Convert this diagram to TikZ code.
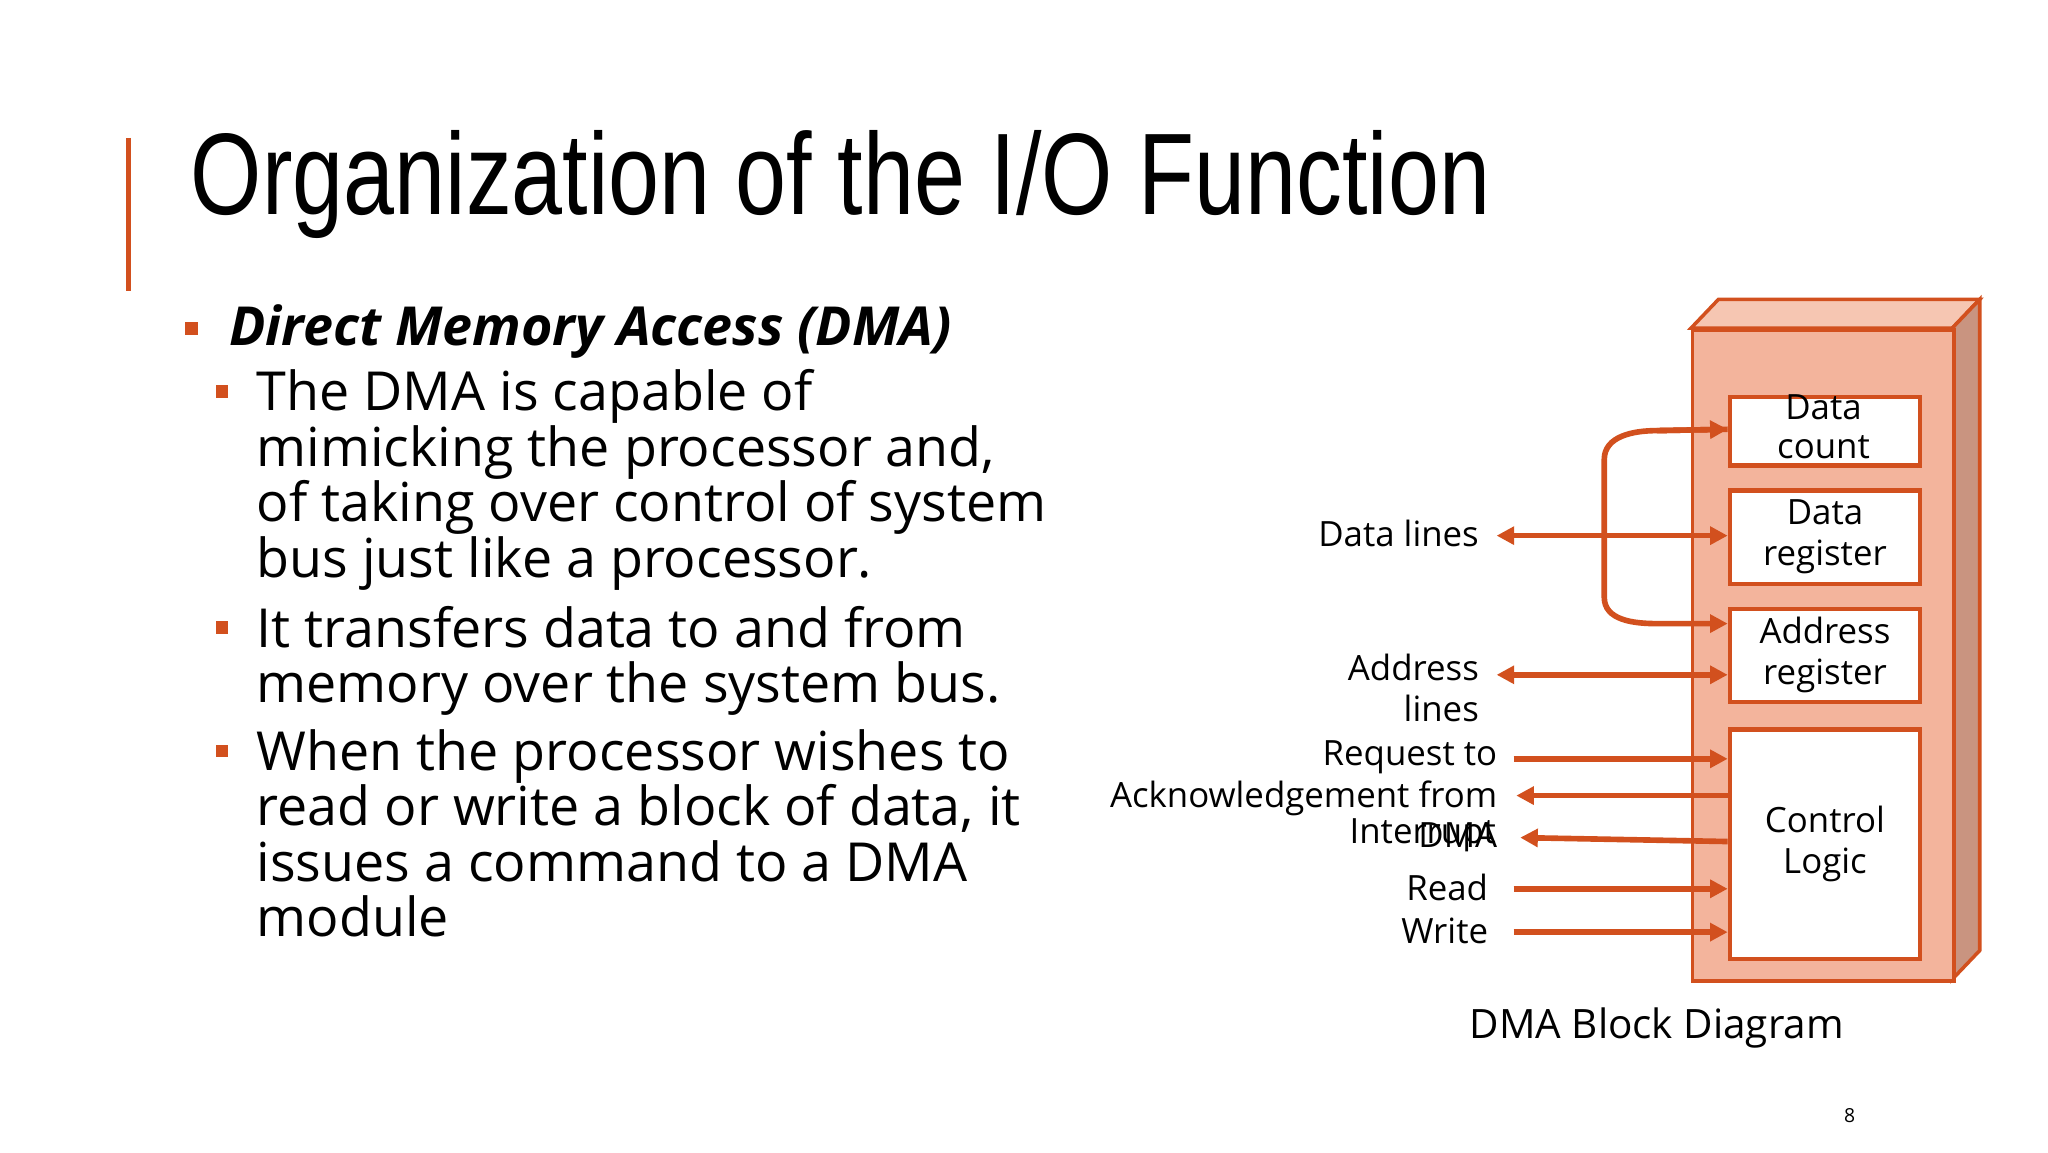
\documentclass[tikz,border=0pt]{standalone}
\usepackage{fontspec}
\setmainfont{Open Sans}
\newfontfamily\titlefont{Liberation Sans}
\usetikzlibrary{arrows.meta}
\definecolor{org}{HTML}{D2501E}
\definecolor{boxfill}{HTML}{F3B49C}
\definecolor{topfill}{HTML}{F6C6B2}
\definecolor{sidefill}{HTML}{C99480}
\tikzset{
  reg/.style={draw=org,line width=1.2pt,fill=white},
  conn/.style={draw=org,line width=1.6pt,-{Triangle[length=5pt,width=5pt]}},
  conn2/.style={draw=org,line width=1.6pt,{Triangle[length=5pt,width=5pt]}-{Triangle[length=5pt,width=5pt]}},
  lbl/.style={font=\fontsize{9.9}{11.6}\selectfont,align=right,inner sep=0pt},
  rlbl/.style={font=\fontsize{9.9}{11.6}\selectfont,align=center,inner sep=0pt},
  body/.style={font=\fontsize{15.3}{15.8}\selectfont,align=left,inner sep=0pt,anchor=north west},
  bul/.style={fill=org,inner sep=0pt,minimum size=3.6pt}
}
\begin{document}
\begin{tikzpicture}[x=0.01313cm,y=-0.01313cm]
\useasboundingbox[fill=white] (0,0) rectangle (1560,877.5);
% left accent line
\draw[org,line width=1.3pt] (98,105) -- (98,222);
% title
\node[anchor=base west,inner sep=0pt,font=\titlefont\fontsize{33}{36}\selectfont,xscale=0.79,transform shape] (title) at (145,163) {Organization of the I/O Function};
% bullets
\node[bul] (b0) at (146,250) {};
\node[anchor=base west,inner sep=0pt,font=\fontsize{15.3}{16}\selectfont\bfseries\itshape] (h) at (174,263) {Direct Memory Access (DMA)};
\node[bul] (b1) at (169,298) {};
\node[body] (t1) at (195,281) {The DMA is capable of\\mimicking the processor and,\\of taking over control of system\\bus just like a processor.};
\node[bul] (b2) at (169,478) {};
\node[body] (t2) at (195,461) {It transfers data to and from\\memory over the system bus.};
\node[bul] (b3) at (169,572) {};
\node[body] (t3) at (195,555) {When the processor wishes to\\read or write a block of data, it\\issues a command to a DMA\\module};
% DMA block
\fill[topfill,draw=org,line width=1pt] (1288,250) -- (1309,228) -- (1508,228) -- (1487,250) -- cycle;
\fill[sidefill,draw=org,line width=1pt] (1487,250) -- (1508,228) -- (1508,724) -- (1487,746) -- cycle;
\node[draw=org,line width=1pt,fill=boxfill,anchor=north west,minimum width=199*0.01313cm,minimum height=496*0.01313cm,inner sep=0pt] (dma) at (1288,250) {};
\node[reg,anchor=north west,minimum width=145*0.01313cm,minimum height=52*0.01313cm,inner sep=0pt] (dc) at (1316,301) {};
\node[rlbl] at (1389,310) {Data};
\node[rlbl] at (1389,341) {count};
\node[reg,anchor=north west,minimum width=145*0.01313cm,minimum height=71*0.01313cm,inner sep=0pt,rlbl] (dr) at (1316,372) {Data\\register};
\node[reg,anchor=north west,minimum width=145*0.01313cm,minimum height=71*0.01313cm,inner sep=0pt,rlbl] (ar) at (1316,462) {Address\\register};
\node[reg,anchor=north west,minimum width=145*0.01313cm,minimum height=175*0.01313cm,inner sep=0pt,rlbl] (cl) at (1316,554) {Control\\Logic};
% labels
\node[lbl,anchor=east] (ldata) at (1127,406) {Data lines};
\node[lbl,anchor=north east] (laddr) at (1127,498) {Address\\lines};
\node[lbl,anchor=east] (lreq) at (1141,577) {Request to};
\node[lbl,anchor=north east] (lack) at (1141,594) {Acknowledgement from\\DMA};
\node[lbl,anchor=east] (lint) at (1140,636) {Interrupt};
\node[lbl,anchor=east] (lread) at (1134,676) {Read};
\node[lbl,anchor=east] (lwrite) at (1134,709) {Write};
\node[inner sep=0pt,font=\fontsize{11.5}{13}\selectfont] (cap) at (1262,783) {DMA Block Diagram};
\node[inner sep=0pt,font=\fontsize{5.5}{6}\selectfont] (pg) at (1409,850) {8};
% connectors
\coordinate (dl) at (1140,408);
\coordinate (al) at (1140,514);
\coordinate (rq) at (1153,578);
\coordinate (ak) at (1155,606);
\coordinate (it) at (1158,638);
\coordinate (rd) at (1153,677);
\coordinate (wr) at (1153,710);
\draw[conn2] (dl) -- (dl -| dr.west);
\draw[conn2] (al) -- (al -| ar.west);
\draw[conn] (1316,327) -- (1262,328) to[out=180,in=90] (1222,350) -- (1222,455) to[out=-90,in=180] (1262,475) -- (ar.west |- 0,475);
\draw[conn] (1262,328) -- (dc.west |- 0,327);
\draw[conn] (rq) -- (rq -| cl.west);
\draw[conn] (ak -| cl.west) -- (ak);
\draw[conn] (1316,641) -- (it);
\draw[conn] (rd) -- (rd -| cl.west);
\draw[conn] (wr) -- (wr -| cl.west);
\end{tikzpicture}
\end{document}
